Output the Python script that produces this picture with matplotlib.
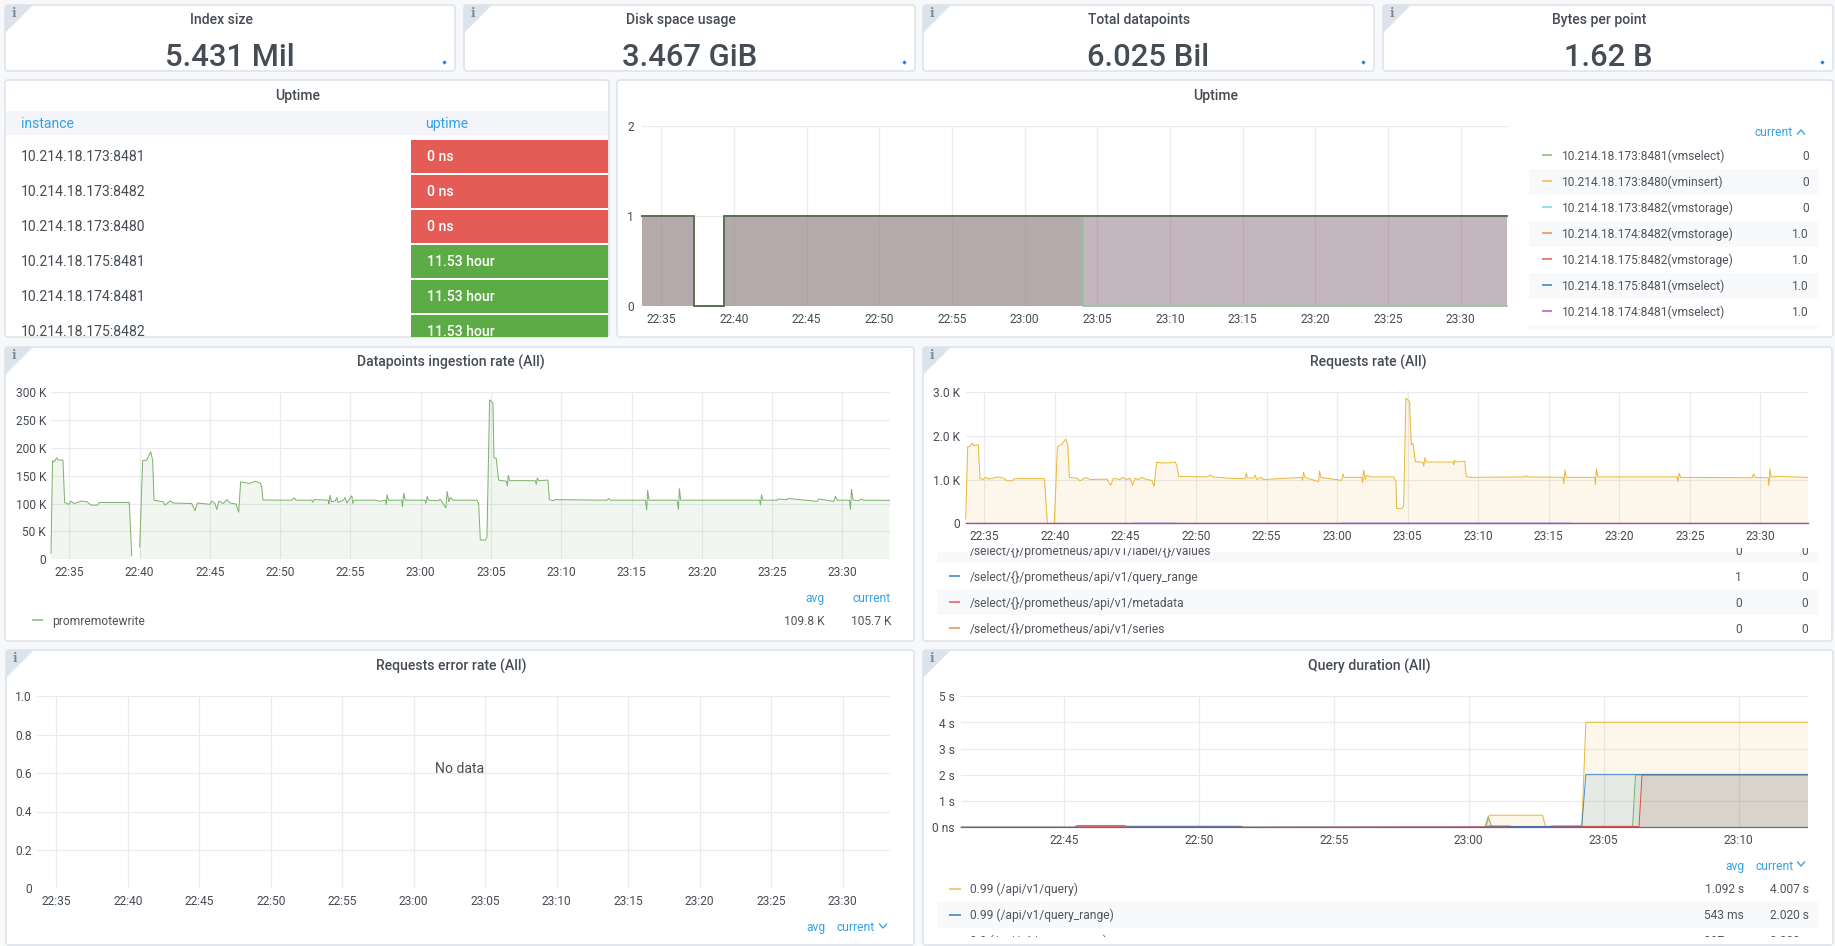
import numpy as np
import matplotlib
matplotlib.use("Agg")
import matplotlib.pyplot as plt
from matplotlib.patches import FancyBboxPatch, Polygon, Rectangle

plt.rcParams['font.family'] = ['Roboto', 'DejaVu Sans']

W, H = 1835, 946
TEXT = '#464c54'
LEGEND = '#52545c'
LINK = '#33a2e5'
BORDER = '#dde1e8'
GRID = '#e9ebee'
STRIPE = '#f8f9fa'
PALETTE = ['#7eb26d', '#eab839', '#6ed0e0', '#ef843c', '#e24d42',
           '#1f78c1', '#ba43a9', '#705da0', '#508642']

# Stat row
stat_titles = ['Index size', 'Disk space usage', 'Total datapoints', 'Bytes per point']
stat_values = ['5.431 Mil', '3.467 GiB', '6.025 Bil', '1.62 B']

# Uptime table
table_instances = ['10.214.18.173:8481', '10.214.18.173:8482', '10.214.18.173:8480',
                   '10.214.18.175:8481', '10.214.18.174:8481', '10.214.18.175:8482']
table_uptime = ['0 ns', '0 ns', '0 ns', '11.53 hour', '11.53 hour', '11.53 hour']
table_seconds = [0, 0, 0, 41508, 41508, 41508]

# Time ticks, minutes after 22:00
tick_minutes = [35, 40, 45, 50, 55, 60, 65, 70, 75, 80, 85, 90]
tick_labels = ['22:35', '22:40', '22:45', '22:50', '22:55', '23:00',
               '23:05', '23:10', '23:15', '23:20', '23:25', '23:30']
query_tick_minutes = [45, 50, 55, 60, 65, 70]
query_tick_labels = ['22:45', '22:50', '22:55', '23:00', '23:05', '23:10']

# Uptime graph
uptime_minutes = [33.67, 37.25, 37.25, 39.34, 39.34, 64.05, 64.05, 93.2]
uptime_restarted = [1, 1, 0, 0, 1, 1, 0, 0]
uptime_steady = [1, 1, 0, 0, 1, 1, 1, 1]
uptime_names = ['10.214.18.173:8481(vmselect)', '10.214.18.173:8480(vminsert)',
                '10.214.18.173:8482(vmstorage)', '10.214.18.174:8482(vmstorage)',
                '10.214.18.175:8482(vmstorage)', '10.214.18.175:8481(vmselect)',
                '10.214.18.174:8481(vmselect)']
uptime_current = ['0', '0', '0', '1.0', '1.0', '1.0', '1.0']

# Datapoints ingestion rate, thousands per second
ingest_minutes = [33.70, 33.81, 33.93, 34.10, 34.22, 34.55, 34.67, 34.81, 34.98, 35.12, 35.33, 35.88,
                  36.28, 36.52, 36.99, 37.14, 39.27, 39.44, np.nan, 40.01, 40.22, 40.50, 40.79, 40.93,
                  41.03, 41.69, 41.81, 42.16, 42.40, 43.71, 43.94, 44.11, 45.01, 45.13, 45.37, 45.49,
                  45.65, 45.96, 46.20, 46.44, 46.86, 47.05, 47.19, 47.38, 47.86, 48.21, 48.57, 48.69,
                  48.78, 50.82, 50.99, 51.13, 52.25, 52.32, 52.41, 53.43, 53.46, 53.55, 53.65, 53.93,
                  54.03, 54.12, 54.50, 54.62, 54.74, 55.10, 55.17, 55.26, 56.87, 56.99, 57.50, 57.54,
                  57.61, 57.70, 58.65, 58.70, 58.79, 58.89, 60.31, 60.36, 60.46, 60.55, 61.27, 61.38,
                  61.79, 61.88, 62.00, 62.10, 62.30, 64.00, 64.12, 64.24, 64.59, 64.71, 64.83, 64.90,
                  65.14, 65.21, 65.37, 65.54, 66.09, 66.16, 66.23, 66.32, 68.15, 68.22, 68.29, 68.39,
                  69.05, 69.15, 69.45, 69.50, 73.25, 73.37, 73.49, 75.98, 76.07, 76.14, 76.24, 78.23,
                  78.33, 78.40, 78.49, 84.12, 84.16, 84.24, 84.33, 85.35, 85.44, 86.06, 86.13, 88.20,
                  88.32, 89.38, 89.50, 89.62, 90.50, 90.57, 90.64, 90.76, 91.16, 91.33, 91.52, 93.35]
ingest_values = [10.8, 177, 175, 182, 178, 178, 102, 100, 98.6, 104.6, 100, 104.6,
                 103, 97.4, 97, 102, 102, 6.6, np.nan, 22, 177, 178, 193, 178,
                 106, 103, 97, 104.6, 101, 100, 87, 101, 98.6, 104.6, 100, 89,
                 104.6, 100, 107, 101, 99, 84, 139, 138, 136, 140, 137, 130,
                 106.4, 106, 110, 106, 106, 102, 107, 106, 99, 115, 103, 105,
                 111, 102, 106, 111, 101, 114, 100, 106, 106, 104, 106, 98,
                 116, 106, 106, 94, 119, 106, 106, 100, 113, 106, 105, 108,
                 92, 122, 103, 111, 106, 106, 100, 35, 34, 40, 200, 286,
                 280, 182, 181, 142, 140, 131, 151, 141, 141, 134, 146, 141,
                 142, 107, 105, 107, 106, 109, 106, 106, 88, 124, 106, 106,
                 89, 127, 106, 106, 97, 116, 106, 106, 108, 107, 109, 104,
                 108, 104, 113, 106, 106, 89, 126, 106, 105, 108, 106, 105.7]

# Requests rate, thousands per second
requests_minutes = [33.68, 33.82, 33.94, 34.15, 34.27, 34.57, 34.69, 34.93, 35.09, 35.28, 35.99, 36.35,
                    36.63, 36.99, 37.13, 39.26, 39.47, 39.96, 40.18, 40.48, 40.77, 40.91, 41.03, 41.55,
                    41.78, 42.19, 42.49, 43.68, 43.96, 44.15, 44.62, 44.79, 45.10, 45.33, 45.50, 45.69,
                    45.92, 46.16, 46.51, 46.87, 47.03, 47.22, 47.58, 48.05, 48.52, 48.64, 48.78, 50.77,
                    51.00, 51.24, 52.30, 53.49, 53.56, 53.65, 54.08, 54.20, 54.31, 54.60, 54.79, 57.50,
                    57.56, 57.62, 57.72, 58.69, 58.76, 58.85, 60.33, 60.41, 60.50, 61.75, 61.81, 61.88,
                    62.00, 62.11, 62.35, 64.01, 64.18, 64.22, 64.60, 64.72, 64.88, 65.14, 65.26, 65.38,
                    65.55, 66.09, 66.14, 66.23, 66.33, 68.22, 68.27, 68.31, 68.38, 69.05, 69.16, 69.45,
                    73.35, 73.42, 73.51, 76.02, 76.07, 76.16, 76.26, 78.27, 78.31, 78.38, 78.48, 84.10,
                    84.15, 84.25, 84.34, 89.42, 89.52, 89.61, 90.56, 90.61, 90.68, 90.77, 91.31, 93.35]
requests_values = [0.10, 1.75, 1.75, 1.83, 1.77, 1.80, 1.03, 1.00, 1.05, 1.01, 1.06, 1.03,
                   0.97, 0.97, 1.02, 1.02, 0.00, 0.00, 1.75, 1.80, 1.93, 1.80, 1.05, 1.03,
                   0.97, 1.05, 1.00, 1.01, 0.87, 1.03, 1.00, 1.05, 1.00, 1.03, 0.87, 1.03,
                   1.00, 1.05, 1.00, 0.98, 0.84, 1.40, 1.38, 1.38, 1.40, 1.33, 1.07, 1.06,
                   1.10, 1.06, 1.03, 1.02, 1.15, 1.04, 1.03, 1.10, 1.00, 1.05, 1.00, 1.05,
                   0.98, 1.17, 1.05, 0.95, 1.20, 1.05, 0.98, 1.13, 1.05, 1.05, 0.92, 1.22,
                   1.00, 1.10, 1.06, 1.06, 0.95, 0.34, 0.34, 0.40, 2.86, 2.78, 1.80, 1.83,
                   1.41, 1.39, 1.30, 1.50, 1.40, 1.40, 1.33, 1.45, 1.40, 1.42, 1.07, 1.05,
                   1.06, 1.09, 1.06, 1.05, 0.90, 1.22, 1.05, 1.05, 0.88, 1.25, 1.06, 1.06,
                   0.95, 1.15, 1.05, 1.04, 1.13, 1.05, 1.04, 0.85, 1.25, 1.06, 1.07, 1.05]
requests_low_minutes = [33.70, 45.4, 45.5, 48.6, 48.7, 60.2, 60.3, 76.5, 76.6, 93.35]
requests_low_values = [0.0, 0.0, 0.008, 0.008, 0.0, 0.0, 0.008, 0.008, 0.0, 0.0]
requests_flat_minutes = [33.70, 93.35]
requests_flat_values = [0.0, 0.0]
requests_rows = ['/select/{}/prometheus/api/v1/label/{}/values', '/select/{}/prometheus/api/v1/query_range',
                 '/select/{}/prometheus/api/v1/metadata', '/select/{}/prometheus/api/v1/series']
requests_avg = ['0', '1', '0', '0']
requests_current = ['0', '0', '0', '0']

# Query duration, seconds
query_yellow_minutes = [41.2, 60.65, 60.76, 62.74, 62.85, 64.19, 64.34, 72.55]
query_yellow_values = [0, 0, 0.46, 0.46, 0, 0, 4.007, 4.007]
query_blue_minutes = [41.2, 45.39, 45.50, 47.23, 47.33, 51.55, 51.60, 60.63, 60.73, 61.50, 61.60, 63.00,
                      63.10, 64.19, 64.34, 72.55]
query_blue_values = [0, 0, 0.07, 0.07, 0.04, 0.04, 0, 0, 0.05, 0.05, 0.03, 0.03,
                     0.05, 0.05, 2.02, 2.02]
query_green_minutes = [41.2, 60.6, 60.72, 60.85, 66.07, 66.18, 72.55]
query_green_values = [0, 0, 0.4, 0.03, 0.04, 2.0, 2.0]
query_red_minutes = [41.2, 45.4, 45.5, 51.6, 51.7, 66.31, 66.42, 72.55]
query_red_values = [0, 0, 0.02, 0.02, 0, 0.03, 2.0, 2.0]
query_purple_minutes = [41.2, 72.55]
query_purple_values = [0, 0]
query_rows = ['0.99 (/api/v1/query)', '0.99 (/api/v1/query_range)', '0.9 (/api/v1/query_range)']
query_avg = ['1.092 s', '543 ms', '397 ms']
query_current = ['4.007 s', '2.020 s', '2.000 s']


fig = plt.figure(figsize=(W / 100, H / 100), dpi=100, facecolor='#f7f8fa')

# Layer in pixel coordinates for panel frames and text
bg = fig.add_axes([0, 0, 1, 1])
bg.set_xlim(0, W)
bg.set_ylim(H, 0)
bg.axis('off')


def pt(px):
    return px * 0.72


def write(x, y, s, size=12, color=LEGEND, ha='left', weight='normal', clip=None):
    t = bg.text(x, y + 1, s, fontsize=pt(size), color=color, ha=ha, va='center', fontweight=weight, zorder=3)
    if clip is not None:
        t.set_clip_on(True)
        t.set_clip_path(Rectangle((clip[0], clip[1]), clip[2] - clip[0], clip[3] - clip[1],
                                  transform=bg.transData))
    return t


def panel(x0, y0, x1, y1, title=None, info=True, title_y=None):
    bg.add_patch(FancyBboxPatch((x0, y0), x1 - x0, y1 - y0, boxstyle='round,pad=0,rounding_size=3',
                                fc='white', ec=BORDER, lw=pt(1.5), zorder=1))
    if info:
        bg.add_patch(Polygon([(x0, y0), (x0 + 28, y0), (x0, y0 + 28)], closed=True, fc='#dde3ea',
                             ec='none', zorder=2))
        bg.text(x0 + 8.5, y0 + 8.5, 'i', fontsize=pt(12), family='DejaVu Serif', fontweight='bold',
                color='#7c8894', ha='center', va='center', zorder=3)
    if title:
        write((x0 + x1) / 2 - 9, title_y, title, 14, TEXT, ha='center', weight=500)


def chevron(x, y, up=True):
    d = -2 if up else 2
    bg.plot([x - 3.5, x, x + 3.5], [y - d, y + d, y - d], color=LINK, lw=pt(1.3), zorder=3)


def marker(x0, x1, y, color):
    bg.plot([x0, x1], [y, y], color=color, lw=pt(2), alpha=0.7, solid_capstyle='butt', zorder=3)


def stripe(x0, x1, y0, y1):
    bg.add_patch(Rectangle((x0, y0), x1 - x0, y1 - y0, fc=STRIPE, ec='none', zorder=2))


def chart(left, top, right, bottom, xlim, ylim, yticks, ylabels, xticks, xlabels, ypad):
    ax = fig.add_axes([left / W, 1 - bottom / H, (right - left) / W, (bottom - top) / H])
    ax.patch.set_alpha(0)
    for s in ax.spines.values():
        s.set_visible(False)
    ax.set_xlim(xlim)
    ax.set_ylim(ylim)
    ax.set_xticks(xticks, xlabels)
    ax.set_yticks(yticks, ylabels)
    ax.tick_params(axis='x', length=0, pad=pt(7), labelsize=pt(12), labelcolor=TEXT)
    ax.tick_params(axis='y', length=0, pad=pt(ypad), labelsize=pt(12), labelcolor=TEXT)
    ax.grid(True, color=GRID, lw=pt(1.2))
    ax.set_axisbelow(True)
    return ax


def series(ax, x, y, color, lw=1.0, fill=True, alpha=1.0):
    x = np.array(x, dtype=float)
    y = np.array(y, dtype=float)
    if fill:
        ax.fill_between(x, 0, y, color=color, alpha=0.1, lw=0)
    ax.plot(x, y, color=color, lw=pt(lw), alpha=alpha, clip_on=False, solid_joinstyle='miter')


# Stat panels
stat_x = [(5, 455), (464, 915), (923, 1374), (1383, 1833)]
for (x0, x1), title, value in zip(stat_x, stat_titles, stat_values):
    panel(x0, 5, x1, 71, title, title_y=19)
    write((x0 + x1) / 2, 56.5, value, 31, TEXT, ha='center', weight=500)
    bg.plot([x1 - 11], [62.5], marker='D', ms=2.2, color='#3274d9', mew=0, zorder=3)

# Uptime table
panel(5, 80, 609, 337, 'Uptime', info=False, title_y=95)
bg.add_patch(Rectangle((6, 111), 602, 24, fc='#f4f5f8', ec='none', zorder=2))
write(21, 123, 'instance', 14, LINK)
write(425.5, 123, 'uptime', 14, LINK)
table_clip = (5, 80, 609, 337)
for i, (name, label, secs) in enumerate(zip(table_instances, table_uptime, table_seconds)):
    top = 140 + 35 * i
    bottom = min(top + 32.7, 337)
    color = '#e55c56' if secs == 0 else '#5cab47'
    bg.add_patch(Rectangle((411, top), 197, bottom - top, fc=color, ec='none', zorder=2))
    write(21, top + 16, name, 14, TEXT, clip=table_clip)
    write(427, top + 16, label, 14, 'white', weight=500, clip=table_clip)

# Uptime graph
panel(617, 80, 1833, 337, 'Uptime', info=False, title_y=95)
ax = chart(642, 126, 1507.5, 306, (33.67, 93.23), (0, 2), [0, 1, 2], ['0', '1', '2'],
           tick_minutes, tick_labels, 8)
for i, color in enumerate(PALETTE):
    if i < 3:
        series(ax, uptime_minutes, uptime_restarted, color, lw=1.5, alpha=0.7)
    elif i < 8:
        series(ax, uptime_minutes, uptime_steady, color, lw=1.0, alpha=0.55)
    else:
        ax.fill_between(uptime_minutes, 0, uptime_steady, color=color, alpha=0.1, lw=0)
        # topmost trace is the darkened blend of all overlapping lines
        ax.plot(uptime_minutes[:6], uptime_steady[:6], color='#5f7058', lw=pt(2), clip_on=False)
        ax.plot(uptime_minutes[5:], uptime_steady[5:], color='#5f7058', lw=pt(2), clip_on=False)

write(1754.5, 132, 'current', 12, LINK)
chevron(1801, 132, up=True)
for y0 in (169, 221, 273, 325):
    stripe(1529, 1819, y0, y0 + 26 if y0 < 325 else 328.5)
for i, (name, cur) in enumerate(zip(uptime_names, uptime_current)):
    y = 155.5 + 26 * i
    marker(1541.5, 1552, y, PALETTE[i])
    write(1562, y, name)
    write(1808.5, y, cur, ha='right')

# Datapoints ingestion rate
panel(5, 347, 914, 641, 'Datapoints ingestion rate (All)', title_y=361)
ax = chart(51, 392, 890, 559.3, (33.70, 93.38), (0, 300), [0, 50, 100, 150, 200, 250, 300],
           ['0', '50 K', '100 K', '150 K', '200 K', '250 K', '300 K'], tick_minutes, tick_labels, 5)
series(ax, ingest_minutes, ingest_values, PALETTE[0])
write(824.7, 597, 'avg', 12, LINK, ha='right')
write(891, 597, 'current', 12, LINK, ha='right')
marker(31.7, 42.7, 620, PALETTE[0])
write(52.3, 620, 'promremotewrite')
write(825, 620, '109.8 K', ha='right')
write(891, 620, '105.7 K', ha='right')

# Requests rate
panel(923, 347, 1832, 641, 'Requests rate (All)', title_y=361)
ax = chart(966, 392, 1808, 523.3, (33.70, 93.38), (0, 3), [0, 1, 2, 3], ['0', '1.0 K', '2.0 K', '3.0 K'],
           tick_minutes, tick_labels, 6)
series(ax, requests_minutes, requests_values, PALETTE[1])
series(ax, requests_low_minutes, requests_low_values, PALETTE[5], lw=0.8, fill=False, alpha=0.5)
series(ax, requests_flat_minutes, requests_flat_values, PALETTE[6], lw=1.4, fill=False)
stripe(937, 1819, 552, 563)
stripe(937, 1819, 589, 615)
req_clip = (930, 547.5, 1830, 634)
for i, name in enumerate(requests_rows):
    y = 550 + 26 * i
    if i > 0:
        marker(949, 960, y, PALETTE[[0, 5, 4, 3][i]])
    write(970, y, name, clip=req_clip)
    write(1742, y, requests_avg[i], ha='right', clip=req_clip)
    write(1808, y, requests_current[i], ha='right', clip=req_clip)

# Requests error rate
panel(6, 650, 914, 945, 'Requests error rate (All)', title_y=665)
ax = chart(37, 696.3, 890, 888.3, (33.65, 93.31), (0, 1), [0, 0.2, 0.4, 0.6, 0.8, 1.0],
           ['0', '0.2', '0.4', '0.6', '0.8', '1.0'], tick_minutes, tick_labels, 5)
write(460, 768, 'No data', 14, TEXT, ha='center')
write(825.6, 926, 'avg', 12, LINK, ha='right')
write(875, 926, 'current', 12, LINK, ha='right')
chevron(883, 926, up=False)

# Query duration
panel(923, 650, 1833, 945, 'Query duration (All)', title_y=665)
ax = chart(961, 696.3, 1808, 827.3, (41.19, 72.57), (0, 5), [0, 1, 2, 3, 4, 5],
           ['0 ns', '1 s', '2 s', '3 s', '4 s', '5 s'], query_tick_minutes, query_tick_labels, 6)
series(ax, query_yellow_minutes, query_yellow_values, PALETTE[1])
series(ax, query_green_minutes, query_green_values, PALETTE[0])
series(ax, query_red_minutes, query_red_values, PALETTE[4])
series(ax, query_blue_minutes, query_blue_values, PALETTE[5], alpha=0.8)
series(ax, query_purple_minutes, query_purple_values, PALETTE[7], lw=1.2, fill=False)
write(1744, 865, 'avg', 12, LINK, ha='right')
write(1794, 865, 'current', 12, LINK, ha='right')
chevron(1801, 864, up=False)
stripe(937, 1819, 902, 928)
query_clip = (930, 650, 1830, 937)
for i, name in enumerate(query_rows):
    y = 888.5 + 26 * i
    if i < 2:
        marker(949, 961, y, PALETTE[[1, 5][i]])
    write(969.6, y, name, clip=query_clip)
    write(1744, y, query_avg[i], ha='right', clip=query_clip)
    write(1809, y, query_current[i], ha='right', clip=query_clip)

fig.savefig('out.png', dpi=100, facecolor=fig.get_facecolor())
